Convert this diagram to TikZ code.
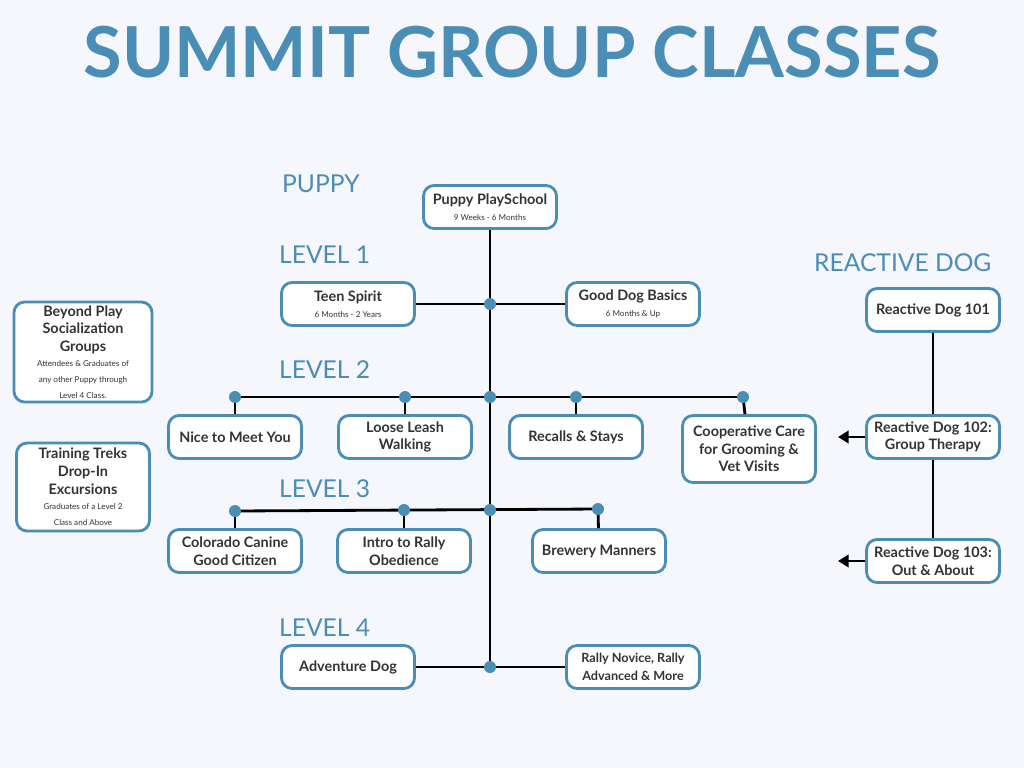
\documentclass[tikz,border=0pt]{standalone}
\usepackage{fontspec}
\setmainfont{Lato}
\usetikzlibrary{positioning,arrows.meta}
\definecolor{sblue}{HTML}{4A8DB5}
\definecolor{sbg}{HTML}{F5F7FC}
\definecolor{stext}{HTML}{333333}
\tikzset{
  class/.style={draw=sblue,line width=1.6pt,rounded corners=6pt,fill=white,
    minimum width=2.66cm,minimum height=0.86cm,align=center,inner sep=1pt,
    font=\fontsize{8.2}{10}\selectfont\bfseries,text=stext},
  level/.style={anchor=west,text=sblue,font=\fontsize{14}{16}\selectfont},
  sub/.style={font=\fontsize{4.6}{5.5}\selectfont\mdseries},
  wire/.style={line width=1.6pt,black},
  dot/.style={circle,fill=sblue,inner sep=0pt,minimum size=0.24cm},
}
\newcommand{\sm}[1]{\\[-1pt]{\fontsize{4.6}{5.5}\selectfont\mdseries #1}}
\begin{document}
\begin{tikzpicture}[x=0.02cm,y=-0.02cm]

\fill[sbg] (0,0) rectangle (1024,768);
\node (title) at (512,52) {\fontsize{40}{44}\selectfont\bfseries\color{sblue}SUMMIT GROUP CLASSES};

% level labels
\node[level] (lpup) at (276,184) {PUPPY};
\node[level] (l1) at (273,255) {LEVEL 1};
\node[level] (l2) at (273,370) {LEVEL 2};
\node[level] (l3) at (273,489) {LEVEL 3};
\node[level] (l4) at (273,628) {LEVEL 4};
\node[level] (lreact) at (808,263) {REACTIVE DOG};

% side boxes
\node[class,minimum width=2.76cm,minimum height=2cm] (beyond) at (83,352)
  {Beyond Play\\Socialization\\Groups\sm{Attendees \& Graduates of}\sm{any other Puppy through}\sm{Level 4 Class.}};
\node[class,minimum height=1.76cm] (treks) at (83,487)
  {Training Treks\\Drop-In\\Excursions\sm{Graduates of a Level 2}\sm{Class and Above}};

% main tree
\node[class] (puppy) at (490,207) {Puppy PlaySchool\sm{9 Weeks - 6 Months}};
\node[class] (teen) at (348,304) {Teen Spirit\sm{6 Months - 2 Years}};
\node[class] (basics) at (633,304) {Good Dog Basics\sm{6 Months \& Up}};
\node[class] (meet) at (235,437) {Nice to Meet You};
\node[class] (leash) at (405,437) {Loose Leash\\Walking};
\node[class] (recall) at (576,437) {Recalls \& Stays};
\node[class,minimum height=1.34cm] (coop) at (749,449) {Cooperative Care\\for Grooming \&\\Vet Visits};
\node[class] (cgc) at (235,551) {Colorado Canine\\Good Citizen};
\node[class] (rally) at (404,551) {Intro to Rally\\Obedience};
\node[class] (brew) at (599,551) {Brewery Manners};
\node[class] (adv) at (348,667) {Adventure Dog};
\node[class] (novice) at (633,667) {\fontsize{7.2}{9}\selectfont Rally Novice, Rally\\\fontsize{7.2}{9}\selectfont Advanced \& More};

% reactive column
\node[class] (r101) at (933,310) {Reactive Dog 101};
\node[class] (r102) at (933,437) {Reactive Dog 102:\\Group Therapy};
\node[class] (r103) at (933,561) {Reactive Dog 103:\\Out \& About};
\coordinate (a102) at (838,437);
\coordinate (a103) at (838,561);

% junctions
\coordinate (j1) at (490,304);
\coordinate (j2) at (490,397);
\coordinate (j2a) at (235,397);
\coordinate (j2b) at (405,397);
\coordinate (j2c) at (576,397);
\coordinate (j2d) at (743,397);
\coordinate (j3) at (490,510);
\coordinate (j3a) at (235,511);
\coordinate (j3b) at (404,510);
\coordinate (j3c) at (598,509);
\coordinate (j4) at (490,667);

\begin{scope}[on background layer/.style={}]
\draw[wire] (puppy) -- (j4);
\draw[wire] (teen) -- (basics);
\draw[wire] (adv) -- (novice);
\draw[wire] (j2a) -- (j2d);
\draw[wire] (j3a) -- (j3c);
\draw[wire] (j2a) -- (meet);
\draw[wire] (j2b) -- (leash);
\draw[wire] (j2c) -- (recall);
\draw[wire] (j2d) -- (coop);
\draw[wire] (j3a) -- (cgc);
\draw[wire] (j3b) -- (rally);
\draw[wire] (j3c) -- (brew);
\draw[wire] (r101) -- (r102);
\draw[wire] (r102) -- (r103);
\draw[wire,-{Triangle[length=6pt,width=7pt]}] (r102) -- (a102);
\draw[wire,-{Triangle[length=6pt,width=7pt]}] (r103) -- (a103);
\end{scope}

\foreach \j in {j1,j2,j2a,j2b,j2c,j2d,j3,j3a,j3b,j3c,j4}
  \node[dot] at (\j) {};

% redraw boxes over wires
\foreach \b in {puppy,teen,basics,meet,leash,recall,coop,cgc,rally,brew,adv,novice,r101,r102,r103} {}

\end{tikzpicture}
\end{document}
